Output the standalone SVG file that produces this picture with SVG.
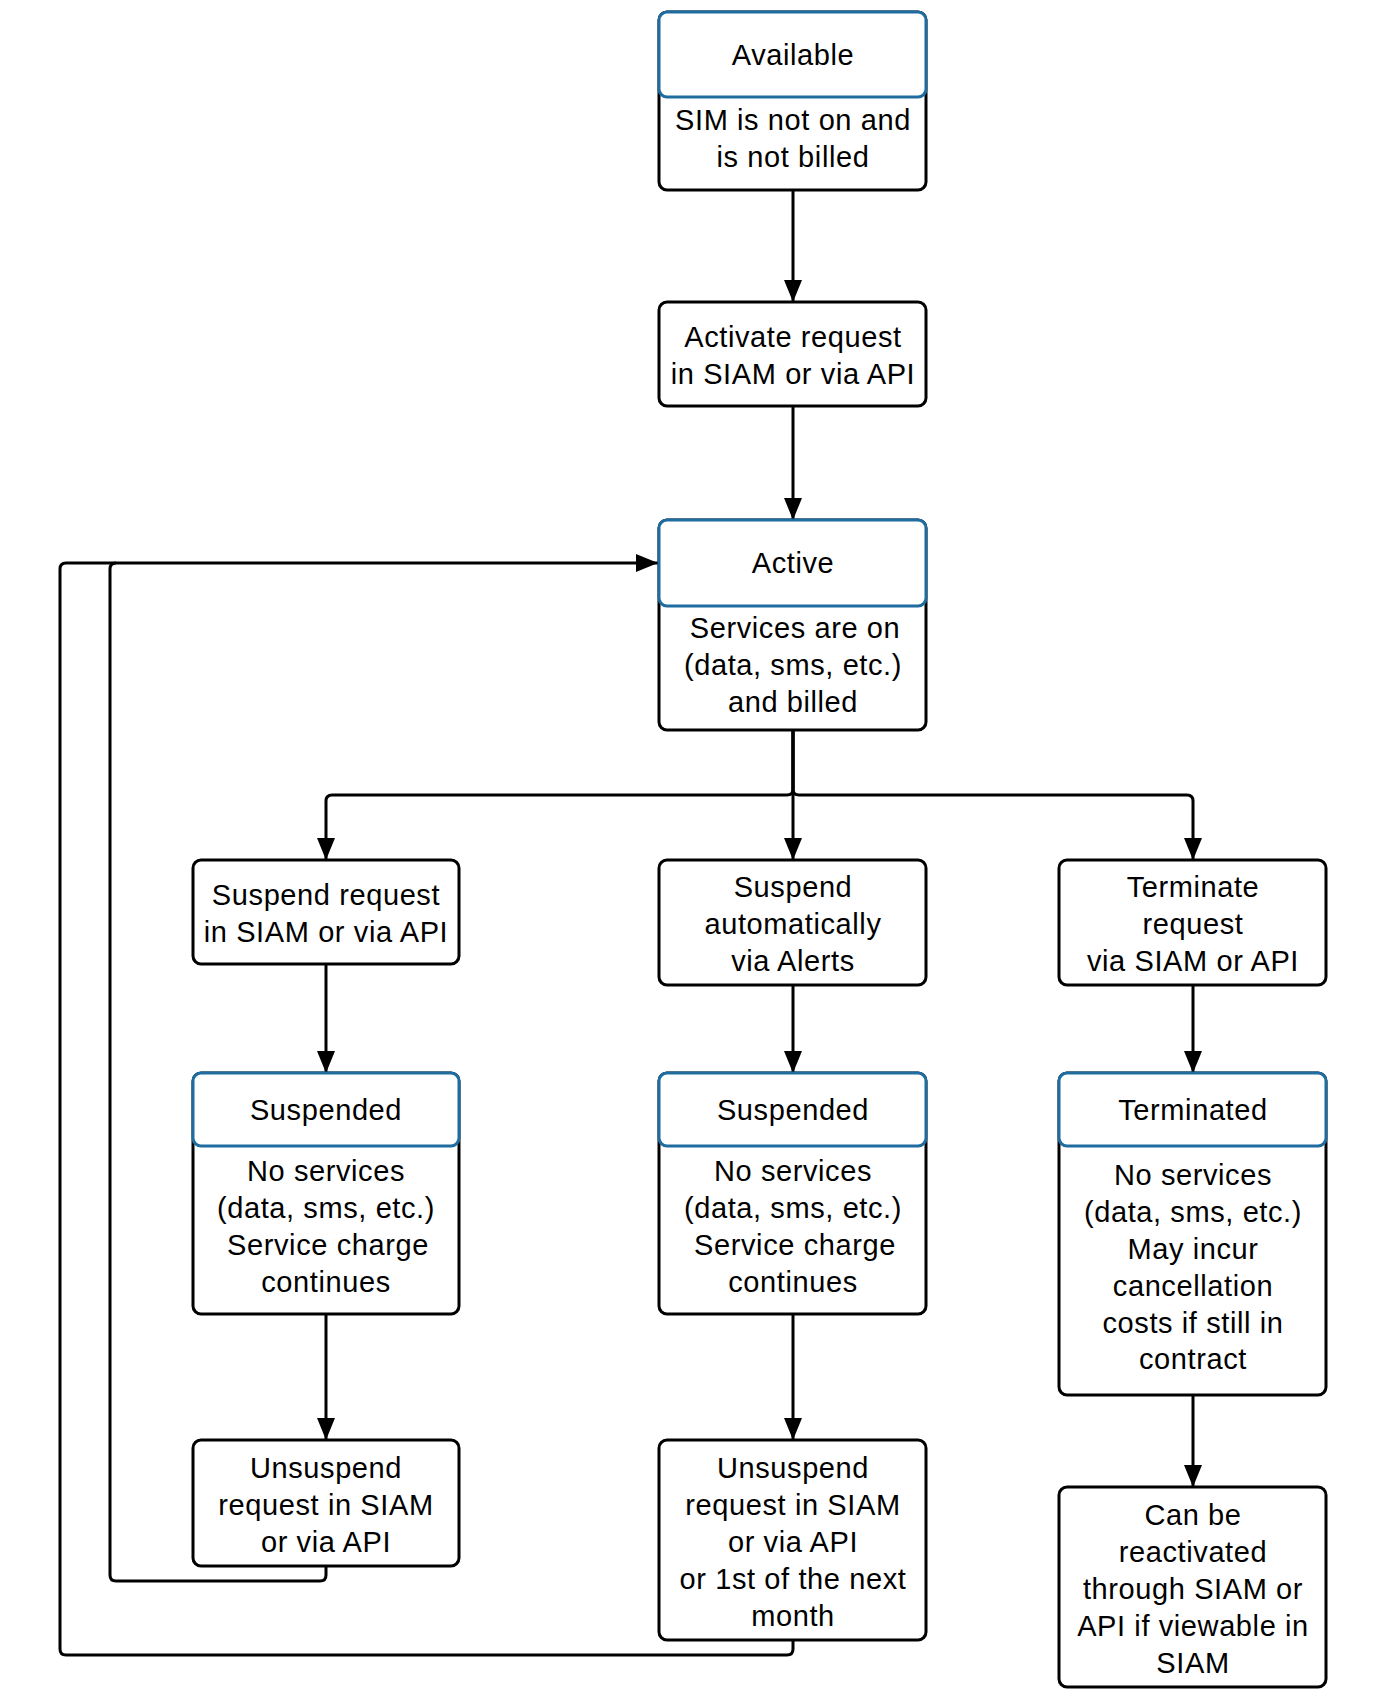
<svg xmlns="http://www.w3.org/2000/svg" width="1400" height="1703" viewBox="0 0 1400 1703">
<style>
.box{fill:#fff;stroke:#000;stroke-width:3}
.hdr{fill:#fff;stroke:#1f6da0;stroke-width:3}
.t{font-family:"Liberation Sans",Arial,sans-serif;font-size:29px;letter-spacing:0.6px;fill:#000;text-anchor:middle}
.c{fill:none;stroke:#000;stroke-width:3;stroke-linejoin:round}
</style>
<defs>
<marker id="ah" viewBox="0 0 22 18" refX="22" refY="9" markerWidth="22" markerHeight="18" markerUnits="userSpaceOnUse" orient="auto">
<path d="M0,0 L22,9 L0,18 Z" fill="#000"/>
</marker>
</defs>
<g id="connectors">
<path class="c" d="M793,190 V302" marker-end="url(#ah)"/>
<path class="c" d="M793,406 V520" marker-end="url(#ah)"/>
<path class="c" d="M793,730 V860" marker-end="url(#ah)"/>
<path class="c" d="M793,730 V789 Q793,795 787,795 H332 Q326,795 326,801 V860" marker-end="url(#ah)"/>
<path class="c" d="M793,730 V789 Q793,795 799,795 H1187 Q1193,795 1193,801 V860" marker-end="url(#ah)"/>
<path class="c" d="M326,964 V1073" marker-end="url(#ah)"/>
<path class="c" d="M793,985 V1073" marker-end="url(#ah)"/>
<path class="c" d="M1193,985 V1073" marker-end="url(#ah)"/>
<path class="c" d="M326,1314 V1440" marker-end="url(#ah)"/>
<path class="c" d="M793,1314 V1440" marker-end="url(#ah)"/>
<path class="c" d="M1193,1395 V1487" marker-end="url(#ah)"/>
<path class="c" d="M326,1566 V1575 Q326,1581 320,1581 H116 Q110,1581 110,1575 V569 Q110,563 116,563 H658" marker-end="url(#ah)"/>
<path class="c" d="M793,1640 V1649 Q793,1655 787,1655 H66 Q60,1655 60,1649 V569 Q60,563 66,563 H116"/>
</g>
<g id="available">
<rect class="box" x="659" y="12" width="267" height="178" rx="8"/>
<rect class="hdr" x="659" y="12" width="267" height="85" rx="8"/>
<text class="t" x="793" y="65">Available</text>
<text class="t" x="793" y="130">SIM is not on and</text>
<text class="t" x="793" y="167">is not billed</text>
</g>
<g id="activate">
<rect class="box" x="659" y="302" width="267" height="104" rx="8"/>
<text class="t" x="793" y="347">Activate request</text>
<text class="t" x="793" y="384">in SIAM or via API</text>
</g>
<g id="active">
<rect class="box" x="659" y="520" width="267" height="210" rx="8"/>
<rect class="hdr" x="659" y="520" width="267" height="86" rx="8"/>
<text class="t" x="793" y="573">Active</text>
<text class="t" x="795" y="638">Services are on</text>
<text class="t" x="793" y="675">(data, sms, etc.)</text>
<text class="t" x="793" y="712">and billed</text>
</g>
<g id="suspend-request">
<rect class="box" x="193" y="860" width="266" height="104" rx="8"/>
<text class="t" x="326" y="905">Suspend request</text>
<text class="t" x="326" y="942">in SIAM or via API</text>
</g>
<g id="suspend-auto">
<rect class="box" x="659" y="860" width="267" height="125" rx="8"/>
<text class="t" x="793" y="897">Suspend</text>
<text class="t" x="793" y="934">automatically</text>
<text class="t" x="793" y="971">via Alerts</text>
</g>
<g id="terminate-request">
<rect class="box" x="1059" y="860" width="267" height="125" rx="8"/>
<text class="t" x="1193" y="897">Terminate</text>
<text class="t" x="1193" y="934">request</text>
<text class="t" x="1193" y="971">via SIAM or API</text>
</g>
<g id="suspended-1">
<rect class="box" x="193" y="1073" width="266" height="241" rx="8"/>
<rect class="hdr" x="193" y="1073" width="266" height="73" rx="8"/>
<text class="t" x="326" y="1120">Suspended</text>
<text class="t" x="326" y="1181">No services</text>
<text class="t" x="326" y="1218">(data, sms, etc.)</text>
<text class="t" x="328" y="1255">Service charge</text>
<text class="t" x="326" y="1292">continues</text>
</g>
<g id="suspended-2">
<rect class="box" x="659" y="1073" width="267" height="241" rx="8"/>
<rect class="hdr" x="659" y="1073" width="267" height="73" rx="8"/>
<text class="t" x="793" y="1120">Suspended</text>
<text class="t" x="793" y="1181">No services</text>
<text class="t" x="793" y="1218">(data, sms, etc.)</text>
<text class="t" x="795" y="1255">Service charge</text>
<text class="t" x="793" y="1292">continues</text>
</g>
<g id="terminated">
<rect class="box" x="1059" y="1073" width="267" height="322" rx="8"/>
<rect class="hdr" x="1059" y="1073" width="267" height="73" rx="8"/>
<text class="t" x="1193" y="1120">Terminated</text>
<text class="t" x="1193" y="1185">No services</text>
<text class="t" x="1193" y="1222">(data, sms, etc.)</text>
<text class="t" x="1193" y="1259">May incur</text>
<text class="t" x="1193" y="1296">cancellation</text>
<text class="t" x="1193" y="1333">costs if still in</text>
<text class="t" x="1193" y="1369">contract</text>
</g>
<g id="unsuspend-1">
<rect class="box" x="193" y="1440" width="266" height="126" rx="8"/>
<text class="t" x="326" y="1478">Unsuspend</text>
<text class="t" x="326" y="1515">request in SIAM</text>
<text class="t" x="326" y="1552">or via API</text>
</g>
<g id="unsuspend-2">
<rect class="box" x="659" y="1440" width="267" height="200" rx="8"/>
<text class="t" x="793" y="1478">Unsuspend</text>
<text class="t" x="793" y="1515">request in SIAM</text>
<text class="t" x="793" y="1552">or via API</text>
<text class="t" x="793" y="1589">or 1st of the next</text>
<text class="t" x="793" y="1626">month</text>
</g>
<g id="reactivate">
<rect class="box" x="1059" y="1487" width="267" height="200" rx="8"/>
<text class="t" x="1193" y="1525">Can be</text>
<text class="t" x="1193" y="1562">reactivated</text>
<text class="t" x="1193" y="1599">through SIAM or</text>
<text class="t" x="1193" y="1636">API if viewable in</text>
<text class="t" x="1193" y="1673">SIAM</text>
</g>
</svg>
